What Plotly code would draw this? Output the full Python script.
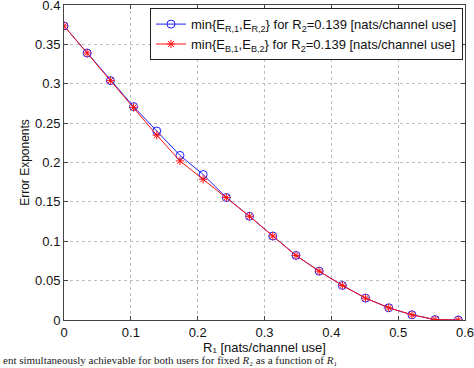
import plotly.graph_objects as go

r1 = [0.0, 0.0347, 0.0694, 0.1041, 0.1388, 0.1735, 0.2082, 0.2429, 0.2776,
      0.3124, 0.3471, 0.3818, 0.4165, 0.4512, 0.4859, 0.5206, 0.5553, 0.590]
e_r = [0.3734, 0.339, 0.304, 0.271, 0.240, 0.209, 0.1847, 0.1555, 0.1317,
       0.1066, 0.082, 0.062, 0.0439, 0.0278, 0.0155, 0.0066, 0.0005, 0.0]
e_b = [0.3734, 0.339, 0.304, 0.270, 0.2347, 0.202, 0.1787, 0.1555, 0.1317,
       0.1066, 0.082, 0.062, 0.0439, 0.0278, 0.0155, 0.0066, 0.0005, 0.0]

xticks = [0, 0.1, 0.2, 0.3, 0.4, 0.5, 0.6]
yticks = [0, 0.05, 0.1, 0.15, 0.2, 0.25, 0.3, 0.35, 0.4]

name_r = "min{E<sub>R,1</sub>,E<sub>R,2</sub>} for R<sub>2</sub>=0.139 [nats/channel use]"
name_b = "min{E<sub>B,1</sub>,E<sub>B,2</sub>} for R<sub>2</sub>=0.139 [nats/channel use]"

fig = go.Figure()
fig.add_trace(go.Scatter(
    x=r1, y=e_r, mode="lines+markers", name=name_r,
    line=dict(color="#2020ff", width=1),
    marker=dict(symbol="circle-open", size=8, color="#2020ff", line=dict(width=1)),
))
fig.add_trace(go.Scatter(
    x=r1, y=e_b, mode="lines+markers", name=name_b,
    line=dict(color="#ff1010", width=1),
    marker=dict(symbol="asterisk-open", size=7, color="#ff1010", line=dict(width=1, color="#ff1010")),
))

axis_common = dict(
    showline=True, linecolor="#444", linewidth=1, mirror="ticks",
    ticks="inside", ticklen=4, tickcolor="#444",
    showgrid=True, gridcolor="#bdbdbd", griddash="dot", gridwidth=1,
    zeroline=False, automargin=False, ticklabeloverflow="allow",
    tickfont=dict(family="Liberation Sans, Arial", size=13, color="#111"),
)

fig.update_xaxes(range=[0, 0.6], tickvals=xticks, ticktext=[f"{v:g}" for v in xticks],
                 title=dict(text="R₁ [nats/channel use]", standoff=1,
                            font=dict(family="Liberation Sans, Arial", size=13, color="#111")),
                 **axis_common)
fig.update_yaxes(range=[0, 0.4], tickvals=yticks, ticktext=[f"{v:g}" for v in yticks],
                 title=dict(text="Error Exponents", standoff=2,
                            font=dict(family="Liberation Sans, Arial", size=12, color="#111")),
                 **axis_common)

fig.add_annotation(
    text="ent simultaneously achievable for both users for fixed <i>R</i>₂ as a function of <i>R</i>₁",
    xref="paper", yref="paper", x=-0.157, y=-0.153, xanchor="left", yanchor="bottom",
    showarrow=False, font=dict(family="Liberation Serif, Times New Roman", size=11, color="#222"),
)

fig.update_layout(
    width=474, height=368,
    margin=dict(l=64, r=9, t=5, b=48),
    paper_bgcolor="white", plot_bgcolor="white",
    showlegend=True,
    legend=dict(x=0.995, y=0.99, xanchor="right", yanchor="top",
                bgcolor="white", bordercolor="#222", borderwidth=1,
                font=dict(family="Liberation Sans, Arial", size=13, color="#111"),
                tracegroupgap=0, itemwidth=30),
)

fig.write_html("out.html", config={"displayModeBar": False},
               post_script="document.body.style.margin='0';document.body.style.overflow='hidden';")
